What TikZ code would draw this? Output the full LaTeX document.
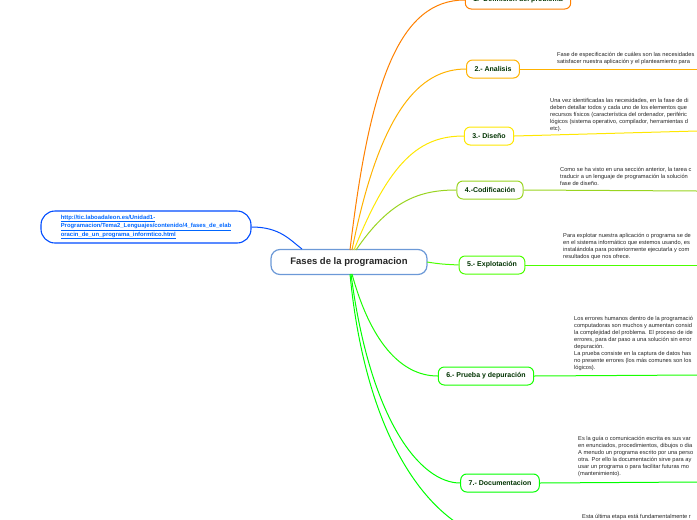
\documentclass[tikz,border=0pt]{standalone}
\usepackage{fontspec}
\setmainfont{Liberation Sans}
\begin{document}
\begin{tikzpicture}[x=1pt,y=-1pt,
 phase/.style={draw=#1,line width=1pt,rounded corners=6pt,fill=white,font=\fontsize{7}{8}\selectfont\bfseries,text=black!80!green,minimum height=18pt,inner xsep=8pt},
 desc/.style={anchor=north west,align=left,inner sep=0pt,font=\fontsize{5.7}{7}\selectfont,text=black!85},
 br/.style={line width=1pt,draw=#1}]
\useasboundingbox (0,0) rectangle (697,520);
\clip (0,0) rectangle (697,520);
% center
\node[draw=cyan!50!blue!60,line width=1.2pt,rounded corners=9pt,minimum width=156pt,minimum height=25pt,font=\fontsize{9.5}{10}\selectfont\bfseries,text=black!85] (c) at (349,262) {Fases de la programacion};
% link
\node[draw=blue!70!cyan,line width=1.1pt,rounded corners=14pt,minimum width=210pt,minimum height=32pt,align=left,font=\fontsize{5.9}{6.5}\selectfont\bfseries,text=blue!60!cyan] (l) at (146,227) {\underline{http://tic.laboadaleon.es/Unidad1-}\\\underline{Programacion/Tema2\_Lenguajes/contenido/4\_fases\_de\_elab}\\\underline{oracin\_de\_un\_programa\_informtico.html}};
\draw[blue!70!cyan,line width=1pt] (l.east) .. controls (280,227) and (290,240) .. (302,249);
% phases
\node[phase=orange] (p1) at (518,0) {1.- Definicion del problema};
\node[phase=orange!60!yellow] (p2) at (493,69) {2.- Analisis};
\node[phase=yellow!90!orange] (p3) at (489,136) {3.- Diseño};
\node[phase=yellow!60!green] (p4) at (490,190) {4.-Codificación};
\node[phase=green!70!yellow] (p5) at (492,265) {5.- Explotación};
\node[phase=green!90!yellow] (p6) at (486,376) {6.- Prueba y depuración};
\node[phase=green] (p7) at (500,483) {7.- Documentacion};
\coordinate (p8) at (460,525);
% branches
\draw[br=orange] (350,250) .. controls (370,80) and (400,0) .. (p1.west);
\draw[br=orange!60!yellow] (352,250) .. controls (380,110) and (420,69) .. (p2.west);
\draw[br=yellow!90!orange] (354,250) .. controls (390,160) and (420,136) .. (p3.west);
\draw[br=yellow!60!green] (356,250) .. controls (390,200) and (420,190) .. (p4.west);
\draw[br=green!70!yellow] (427,262) .. controls (440,264) .. (p5.west);
\draw[br=green!90!yellow] (352,274) .. controls (370,340) and (400,376) .. (p6.west);
\draw[br=green] (351,274) .. controls (370,420) and (420,483) .. (p7.west);
\draw[br=green] (350,274) .. controls (365,430) and (420,500) .. (p8);
% underlines
\draw[br=orange!60!yellow] (p2.east) -- (697,69);
\draw[br=yellow!90!orange] (p3.east) -- (697,131);
\draw[br=yellow!60!green] (p4.east) -- (697,191);
\draw[br=green!70!yellow] (p5.east) -- (697,265);
\draw[br=green!90!yellow] (p6.east) -- (697,375);
\draw[br=green] (p7.east) -- (697,482);
% descriptions
\node[desc] (d2) at (557,52) {Fase de especificación de cuáles son las necesidades\\satisfacer nuestra aplicación y el planteamiento para};
\node[desc] (d3) at (550,98) {Una vez identificadas las necesidades, en la fase de di\\deben detallar todos y cada uno de los elementos que\\recursos físicos (característica del ordenador, periféric\\lógicos (sistema operativo, compilador, herramientas d\\etc).};
\node[desc] (d4) at (560,167) {Como se ha visto en una sección anterior, la tarea c\\traducir a un lenguaje de programación la solución\\fase de diseño.};
\node[desc] (d5) at (563,233) {Para explotar nuestra aplicación o programa se de\\en el sistema informático que estemos usando, es\\instalándola para posteriormente ejecutarla y com\\resultados que nos ofrece.};
\node[desc] (d6) at (574,316) {Los errores humanos dentro de la programació\\computadoras son muchos y aumentan consid\\la complejidad del problema. El proceso de ide\\errores, para dar paso a una solución sin error\\depuración.\\La prueba consiste en la captura de datos has\\no presente errores (los más comunes son los\\lógicos).};
\node[desc] (d7) at (578,436) {Es la guía o comunicación escrita es sus var\\en enunciados, procedimientos, dibujos o dia\\A menudo un programa escrito por una perso\\otra. Por ello la documentación sirve para ay\\usar un programa o para facilitar futuras mo\\(mantenimiento).};
\node[desc] (d8) at (582,514) {Esta última etapa está fundamentalmente r};
\end{tikzpicture}
\end{document}
